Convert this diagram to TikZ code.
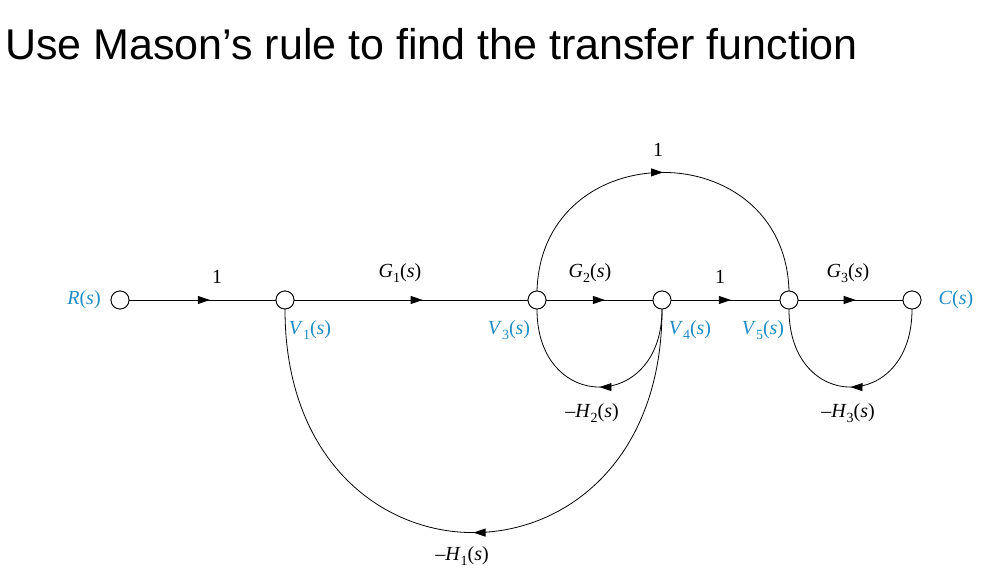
\documentclass[tikz,border=0pt]{standalone}
\usepackage{fontspec}
\setmainfont{Liberation Serif}
\newfontfamily\titlefont{Liberation Sans}
\usetikzlibrary{decorations.markings,arrows.meta}
\definecolor{lblue}{RGB}{30,140,200}
\newcommand{\flab}[2]{\textit{#1}\raisebox{-0.22em}{\fontsize{14}{15}\selectfont #2}(\textit{s})}
\begin{document}
\begin{tikzpicture}[x=1pt,y=-1pt,
  sn/.style={circle,draw,thick,minimum size=18pt,inner sep=0pt,fill=white},
  br/.style={thick,postaction={decorate},decoration={markings,mark=at position #1 with {\arrow{Triangle[length=12pt,width=8pt]}}}},
  br/.default=0.55,
  lb/.style={font=\fontsize{20}{22}\selectfont},
  bl/.style={font=\fontsize{20}{22}\selectfont,text=lblue}]
\useasboundingbox (0,0) rectangle (993,577);
\node[anchor=base west,inner sep=0pt,font=\titlefont\fontsize{43}{46}\selectfont] (title) at (5,60) {Use Mason’s rule to find the transfer function};
\node[sn] (R) at (120,300) {};
\node[sn] (V1) at (285,300) {};
\node[sn] (V3) at (537,300) {};
\node[sn] (V4) at (662,300) {};
\node[sn] (V5) at (789,300) {};
\node[sn] (C) at (912,300) {};
\draw[br] (R) -- (V1);
\draw[br] (V1) -- (V3);
\draw[br] (V3) -- (V4);
\draw[br] (V4) -- (V5);
\draw[br] (V5) -- (C);
\draw[br=0.5] (V3.north) .. controls (542,133) and (784,133) .. (V5.north);
\draw[br=0.5] (V4.south) .. controls (662,413) and (537,413) .. (V3.south);
\draw[br=0.5] (C.south) .. controls (912,413) and (789,413) .. (V5.south);
\draw[br=0.5] (V4.south) .. controls (662,607) and (285,607) .. (V1.south);
\foreach \n in {R,V1,V3,V4,V5,C} \node[sn] at (\n) {};
\node[lb] (l1) at (217,277) {1};
\node[lb] (lg1) at (400,273) {\flab{G}{1}};
\node[lb] (lg2) at (590,273) {\flab{G}{2}};
\node[lb] (l2) at (720,277) {1};
\node[lb] (lg3) at (848,273) {\flab{G}{3}};
\node[lb] (l3) at (658,150) {1};
\node[lb] (lh2) at (592,413) {\textendash\flab{H}{2}};
\node[lb] (lh3) at (848,413) {\textendash\flab{H}{3}};
\node[lb] (lh1) at (462,556) {\textendash\flab{H}{1}};
\node[bl] (lR) at (84,300) {\textit{R}(\textit{s})};
\node[bl] (lC) at (956,300) {\textit{C}(\textit{s})};
\node[bl] (lV1) at (310,330) {\flab{V}{1}};
\node[bl] (lV3) at (509,330) {\flab{V}{3}};
\node[bl] (lV4) at (690,330) {\flab{V}{4}};
\node[bl] (lV5) at (763,330) {\flab{V}{5}};
\end{tikzpicture}
\end{document}
